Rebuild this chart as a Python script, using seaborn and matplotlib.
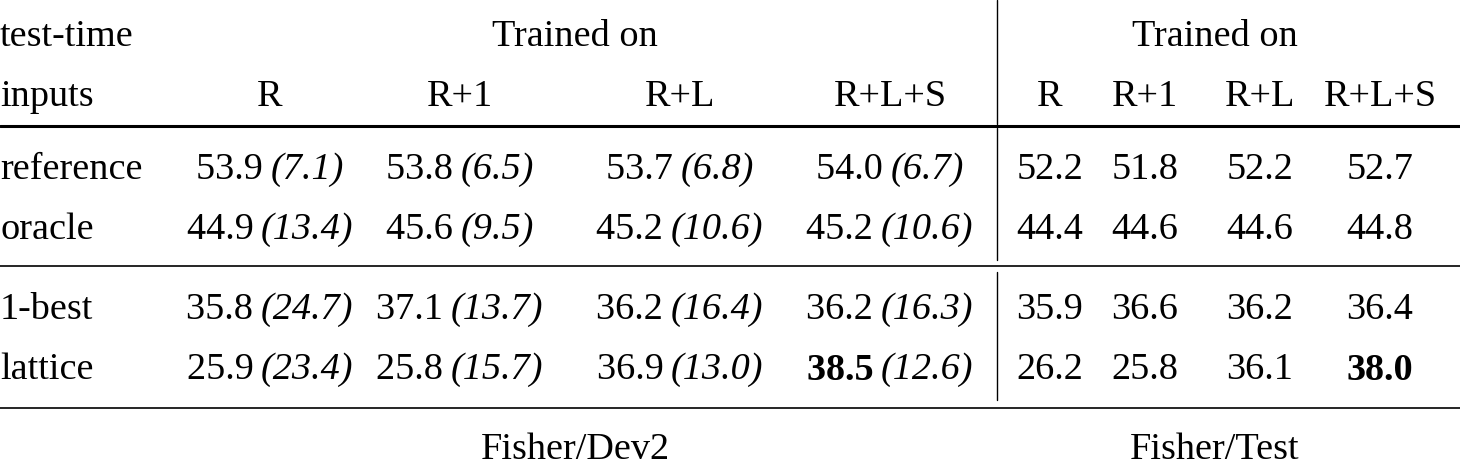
import matplotlib
matplotlib.use("Agg")
import matplotlib.pyplot as plt
import seaborn as sns

# Table data
row_labels = ["reference", "oracle", "1-best", "lattice"]
train_sets = ["R", "R+1", "R+L", "R+L+S"]
dev2_scores = [[53.9, 53.8, 53.7, 54.0],
               [44.9, 45.6, 45.2, 45.2],
               [35.8, 37.1, 36.2, 36.2],
               [25.9, 25.8, 36.9, 38.5]]
dev2_wer = [[7.1, 6.5, 6.8, 6.7],
            [13.4, 9.5, 10.6, 10.6],
            [24.7, 13.7, 16.4, 16.3],
            [23.4, 15.7, 13.0, 12.6]]
test_scores = [[52.2, 51.8, 52.2, 52.7],
               [44.4, 44.6, 44.6, 44.8],
               [35.9, 36.6, 36.2, 36.4],
               [26.2, 25.8, 36.1, 38.0]]
best = (3, 3)  # bold cell in both blocks

sns.set_style("white")
plt.rcParams["font.family"] = ["Liberation Serif", "DejaVu Serif"]
plt.rcParams["text.color"] = "black"
FS = 27.5

fig = plt.figure(figsize=(14.6, 4.65), dpi=100)
ax = fig.add_axes([0, 0, 1, 1])
ax.set_xlim(0, 1460)
ax.set_ylim(465, 0)
ax.axis("off")

dev_x = [270, 460, 680, 890]
test_x = [1050, 1145, 1260, 1380]
row_y = [170, 230, 310, 370]

ax.text(0, 37, "test-time", fontsize=FS, va="center")
ax.text(0, 97, "inputs", fontsize=FS, va="center")
ax.text(575, 37, "Trained on", fontsize=FS, va="center", ha="center")
ax.text(1215, 37, "Trained on", fontsize=FS, va="center", ha="center")
for i, name in enumerate(train_sets):
    ax.text(dev_x[i], 97, name, fontsize=FS, va="center", ha="center")
    ax.text(test_x[i], 97, name, fontsize=FS, va="center", ha="center")

pairs = []
for r, lab in enumerate(row_labels):
    ax.text(0, row_y[r], lab, fontsize=FS, va="center")
    for c in range(4):
        bold = (r, c) == best
        t1 = ax.text(dev_x[c], row_y[r], f"{dev2_scores[r][c]:.1f}\u2009", fontsize=FS,
                     va="center", ha="right", fontweight="bold" if bold else "normal")
        t2 = ax.text(dev_x[c], row_y[r], f"({dev2_wer[r][c]:.1f})", fontsize=FS,
                     va="center", ha="left", style="italic")
        pairs.append((t1, t2, dev_x[c]))
        ax.text(test_x[c], row_y[r], f"{test_scores[r][c]:.1f}", fontsize=FS, va="center",
                ha="center", fontweight="bold" if bold else "normal")

ax.text(575, 450, "Fisher/Dev2", fontsize=FS, va="center", ha="center")
ax.text(1215, 450, "Fisher/Test", fontsize=FS, va="center", ha="center")

# center number + parenthetical pairs
fig.canvas.draw()
rend = fig.canvas.get_renderer()
for t1, t2, cx in pairs:
    w1 = t1.get_window_extent(rend).width
    w2 = t2.get_window_extent(rend).width
    split = cx + (w1 - w2) / 2
    t1.set_x(split)
    t2.set_x(split)

# rules
ax.plot([0, 1460], [126, 126], color="black", lw=2.2)
ax.plot([0, 1460], [266, 266], color="black", lw=1.2)
ax.plot([0, 1460], [408, 408], color="black", lw=1.2)
for y0, y1 in [(0, 124), (128, 260), (272, 400)]:
    ax.plot([997, 997], [y0, y1], color="black", lw=1.0)

fig.savefig("out.png", dpi=100)
